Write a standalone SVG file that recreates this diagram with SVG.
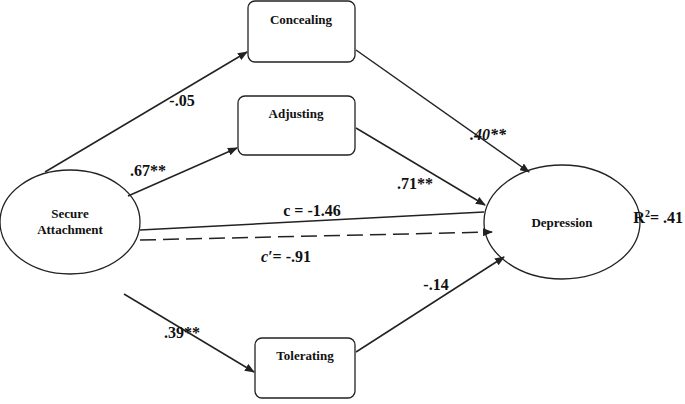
<svg xmlns="http://www.w3.org/2000/svg" width="685" height="404" viewBox="0 0 685 404">
<style>
.n{fill:#fff;stroke:#222;stroke-width:1.3}
.t{font-family:"Liberation Serif",serif;font-weight:bold;font-size:13px;text-anchor:middle;fill:#111}
.l{font-family:"Liberation Serif",serif;font-weight:bold;font-size:16px;text-anchor:middle;fill:#111}
.e{stroke:#222;stroke-width:1.5;fill:none}
</style>
<defs><marker id="a" markerWidth="10" markerHeight="8" refX="9" refY="4" orient="auto" markerUnits="userSpaceOnUse"><path d="M0,0L10,4L0,8z" fill="#222"/></marker></defs>
<g id="secure"><ellipse class="n" cx="70" cy="222" rx="70" ry="52"/><text class="t" x="70" y="218">Secure</text><text class="t" x="70" y="234">Attachment</text></g>
<g id="depression"><ellipse class="n" cx="562" cy="222" rx="78" ry="57"/><text class="t" x="562" y="227">Depression</text></g>
<g id="concealing"><rect class="n" x="248" y="1" width="107" height="61" rx="7"/><text class="t" x="301" y="24">Concealing</text></g>
<g id="adjusting"><rect class="n" x="238" y="96" width="117" height="59" rx="7"/><text class="t" x="296" y="118">Adjusting</text></g>
<g id="tolerating"><rect class="n" x="255" y="338" width="100" height="60" rx="7"/><text class="t" x="305" y="360">Tolerating</text></g>
<g id="connectors">
<line class="e" x1="45" y1="172" x2="247" y2="52" marker-end="url(#a)"/>
<line class="e" x1="128" y1="196" x2="237" y2="148" marker-end="url(#a)"/>
<line class="e" x1="124" y1="294" x2="254" y2="372" marker-end="url(#a)"/>
<line class="e" x1="356" y1="50" x2="529" y2="172" marker-end="url(#a)"/>
<line class="e" x1="356" y1="128" x2="485" y2="205" marker-end="url(#a)"/>
<line class="e" x1="356" y1="352" x2="504" y2="257" marker-end="url(#a)"/>
<line class="e" x1="140" y1="230" x2="484" y2="212"/>
<line class="e" x1="140" y1="240" x2="492" y2="232" stroke-dasharray="16,7" marker-end="url(#a)"/>
</g>
<text class="l" x="182" y="106">-.05</text>
<text class="l" x="148" y="176">.67**</text>
<text class="l" x="182" y="338">.39**</text>
<text class="l" x="488" y="140" font-style="italic">.40**</text>
<text class="l" x="415" y="189">.71**</text>
<text class="l" x="436" y="290">-.14</text>
<text class="l" x="312" y="216">c = -1.46</text>
<text class="l" x="286" y="262"><tspan font-style="italic">c′</tspan>= -.91</text>
<text class="l" x="683" y="223" style="text-anchor:end">R<tspan font-size="10" dy="-6">2</tspan><tspan dy="6">= .41</tspan></text>
</svg>
